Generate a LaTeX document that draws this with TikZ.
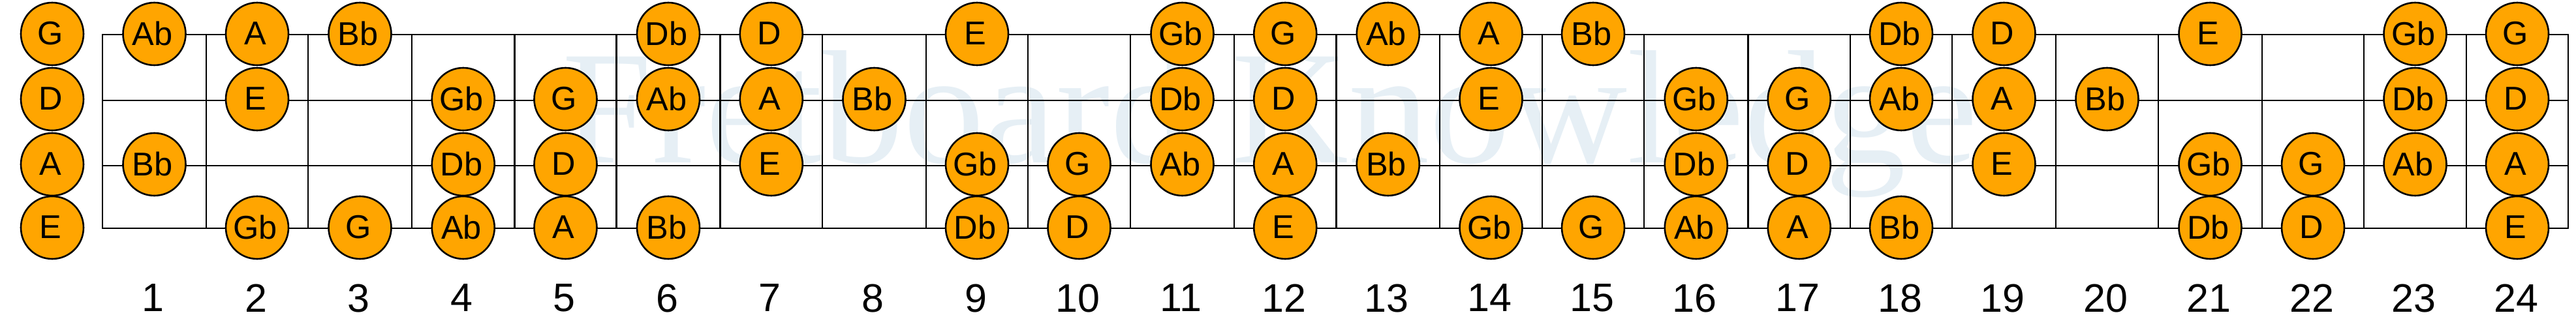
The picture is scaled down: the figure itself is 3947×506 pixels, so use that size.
\documentclass[tikz,border=0pt]{standalone}
\usetikzlibrary{calc}
\usepackage{fontspec}
\setmainfont{Liberation Sans}
\newfontfamily\wmfont{Liberation Serif}
\definecolor{noteorange}{HTML}{FFA500}
\definecolor{wmblue}{HTML}{E6EFF5}
\newcommand{\notelabel}[1]{\hspace*{-5.5bp}\raisebox{2.5bp}{#1}}
\tikzset{
  notedot/.style={circle,draw=black,line width=2.6bp,fill=noteorange,minimum size=96bp,inner sep=0pt,
    font=\fontsize{50.5bp}{50.5bp}\selectfont,text=black},
  fretnum/.style={inner sep=0pt,font=\fontsize{61bp}{61bp}\selectfont,text=black},
  wire/.style={draw=black,line width=2.2bp},
  watermark/.style={inner sep=0pt,anchor=base west,text=wmblue,font=\wmfont\fontsize{248bp}{248bp}\selectfont}
}
\begin{document}
\begin{tikzpicture}[x=1bp,y=-1bp]
\useasboundingbox (0,0) rectangle (3947,506);
\node[watermark] (wm) at (861,250) {Fretboard Knowledge};
% strings
\foreach \i/\y in {1/53.3,2/153.7,3/253.7,4/350.3}{
  \coordinate (sl\i) at (157,\y);
  \coordinate (sr\i) at (3935,\y);
  \draw[wire,line cap=rect] (sl\i) -- (sr\i);
}
% frets: named top and bottom points; mid points between frets name the columns
\foreach \i/\fx in {0/157,1/316,2/472,3/631,4/788.5,5/944.5,6/1103.5,7/1260,8/1419,9/1575,10/1732,11/1891,12/2047.5,13/2206,14/2363,15/2519,16/2678.5,17/2835,18/2991,19/3150,20/3307,21/3466,22/3622,23/3779,24/3935}{
  \coordinate (ft\i) at (\fx,53.3);
  \coordinate (fb\i) at (\fx,350.3);
  \draw[wire] (ft\i) -- (fb\i);
}
\coordinate (col0) at (80,0);
\foreach \i [evaluate=\i as \p using int(\i-1)] in {1,...,24}{
  \coordinate (col\i) at ($(ft\p)!0.5!(ft\i)$);
}
% notes
\foreach \s/\y/\notes in {
  g/52/{0/G,1/Ab,2/A,3/Bb,6/Db,7/D,9/E,11/Gb,12/G,13/Ab,14/A,15/Bb,18/Db,19/D,21/E,23/Gb,24/G},
  d/152/{0/D,2/E,4/Gb,5/G,6/Ab,7/A,8/Bb,11/Db,12/D,14/E,16/Gb,17/G,18/Ab,19/A,20/Bb,23/Db,24/D},
  a/252/{0/A,1/Bb,4/Db,5/D,7/E,9/Gb,10/G,11/Ab,12/A,13/Bb,16/Db,17/D,19/E,21/Gb,22/G,23/Ab,24/A},
  e/349/{0/E,2/Gb,3/G,4/Ab,5/A,6/Bb,9/Db,10/D,12/E,14/Gb,15/G,16/Ab,17/A,18/Bb,21/Db,22/D,24/E}}{
  \foreach \f/\n in \notes {
    \node[notedot] (n\s\f) at (col\f |- 0,\y) {\notelabel{\n}};
  }
}
% fret numbers
\foreach \i in {1,...,24}{
  \node[fretnum,xshift=-2bp] (num\i) at (col\i |- 0,457) {\i};
}
\end{tikzpicture}
\end{document}
